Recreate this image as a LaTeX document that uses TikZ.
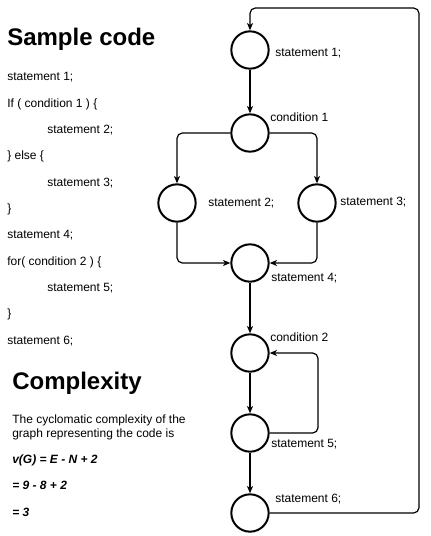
\documentclass[tikz,border=0pt]{standalone}
\usepackage{fontspec}
\setmainfont{Liberation Sans}
\usetikzlibrary{arrows.meta}

\begin{document}
\begin{tikzpicture}[x=0.75pt,y=0.75pt,yscale=-1,xscale=1,
  blk/.style={circle,draw,line width=1.5pt,minimum size=28pt,inner sep=0pt},
  txt/.style={anchor=base west,inner sep=0pt,font=\fontsize{9}{11}\selectfont},
  head/.style={anchor=base west,inner sep=0pt,font=\fontsize{18}{22}\selectfont\bfseries},
  frm/.style={anchor=base west,inner sep=0pt,font=\fontsize{9}{11}\selectfont\bfseries\itshape},
  flow/.style={line width=0.9pt,rounded corners=4pt,-{Stealth[length=5.5pt,width=4.5pt,inset=1.5pt]}}]
\useasboundingbox (0,0) rectangle (430,536);

% Text Node
\node[head] (hcode) at (7,45) {Sample code};
% Text Node
\node[txt] (l1) at (7,80) {statement 1;};
\node[txt] (l2) at (7,107) {If ( condition 1 ) \{};
\node[txt] (l3) at (47,133) {statement 2;};
\node[txt] (l4) at (7,159) {\} else \{};
\node[txt] (l5) at (47,186) {statement 3;};
\node[txt] (l6) at (7,212) {\}};
\node[txt] (l7) at (7,238) {statement 4;};
\node[txt] (l8) at (7,265) {for( condition 2 ) \{};
\node[txt] (l9) at (47,291) {statement 5;};
\node[txt] (l10) at (7,317) {\}};
\node[txt] (l11) at (7,344) {statement 6;};

% Text Node
\node[head] (hcplx) at (12,389) {Complexity};
% Text Node
\node[txt] (p1) at (12,423) {The cyclomatic complexity of the};
\node[txt] (p2) at (12,437) {graph representing the code is};
% Text Node
\node[frm] (f1) at (12,463) {v(G) = E - N + 2};
\node[frm] (f2) at (12,489) {= 9 - 8 + 2};
\node[frm] (f3) at (12,516) {= 3};

% Circle Node
\node[blk] (s1) at (250,50) {};
\node[blk] (c1) at (250,133) {};
\node[blk] (s2) at (177,203) {};
\node[blk] (s3) at (317,203) {};
\node[blk] (s4) at (250,263) {};
\node[blk] (c2) at (250,353) {};
\node[blk] (s5) at (250,433) {};
\node[blk] (s6) at (250,513) {};

% Text Node
\node[txt] (ts1) at (275,56) {statement 1;};
\node[txt] (tc1) at (270,121) {condition 1};
\node[txt] (ts2) at (208,206) {statement 2;};
\node[txt] (ts3) at (340,205) {statement 3;};
\node[txt] (ts4) at (271,281) {statement 4;};
\node[txt] (tc2) at (270,341) {condition 2};
\node[txt] (ts5) at (271,447) {statement 5;};
\node[txt] (ts6) at (275,502) {statement 6;};

% Connection
\draw[flow] (s1) -- (c1);
\draw[flow] (c1) -| (s2);
\draw[flow] (c1) -| (s3);
\draw[flow] (s2) |- (s4);
\draw[flow] (s3) |- (s4);
\draw[flow] (s4) -- (c2);
\draw[flow] (c2) -- (s5);
\draw[flow] (s5) -- (s6);
% Connection
\coordinate (r5) at (318,433);
\draw[flow] (s5) -- (r5) |- (c2);
% Connection
\coordinate (rb) at (419,513);
\coordinate (rt) at (419,8);
\draw[flow] (s6) -- (rb) -- (rt) -| (s1);

\end{tikzpicture}
\end{document}
